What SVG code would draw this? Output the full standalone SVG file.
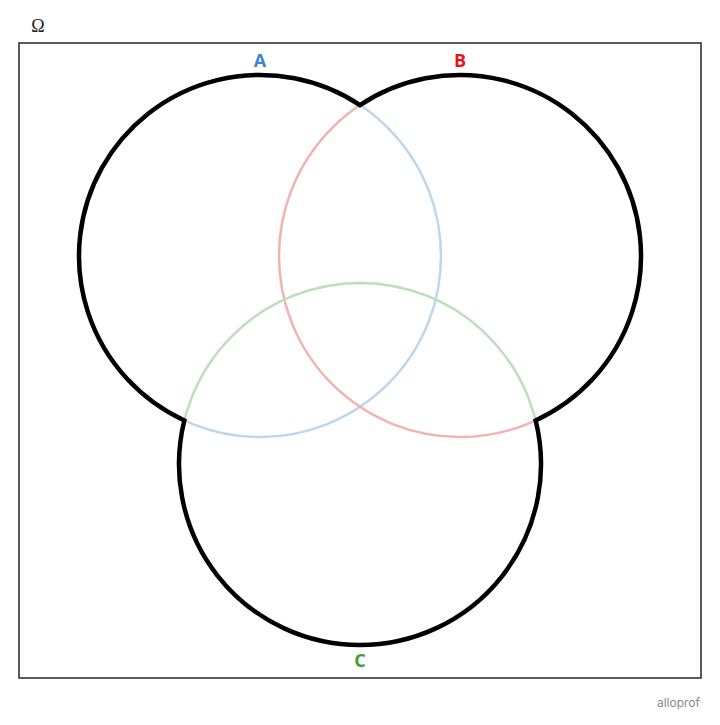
<svg xmlns="http://www.w3.org/2000/svg" width="720" height="725" viewBox="0 0 720 725">
<style>
.set{fill:none;stroke-width:2.5}
.lbl{font-family:"Open Sans","Liberation Sans",sans-serif;font-weight:700;font-size:18px;text-anchor:middle}
.outline{fill:none;stroke:#000;stroke-width:4.5;stroke-linejoin:miter}
</style>
<rect width="720" height="725" fill="#fff"/>
<g id="universe">
<rect x="19" y="43" width="682" height="635" fill="none" stroke="#333" stroke-width="1.6"/>
<text x="38" y="32" font-family="Liberation Serif,serif" font-size="18" text-anchor="middle" fill="#222">Ω</text>
</g>
<g id="setA">
<circle class="set" cx="260" cy="256" r="181" stroke="#BCD6EE"/>
<text class="lbl" x="260" y="67" fill="#3D86CE">A</text>
</g>
<g id="setB">
<circle class="set" cx="460" cy="256" r="181" stroke="#F5B1B1"/>
<text class="lbl" x="460" y="67" fill="#E8141B">B</text>
</g>
<g id="setC">
<circle class="set" cx="360" cy="464" r="181" stroke="#BCDFB9"/>
<text class="lbl" x="360" y="667" fill="#3A9E3A">C</text>
</g>
<g id="connectors">
<path class="outline" d="M360,105.13 A181,181 0 1 0 184.33,420.42 A181,181 0 1 0 535.67,420.42 A181,181 0 1 0 360,105.13 Z"/>
</g>
<text x="700" y="707" font-family="Inter,'Liberation Sans',sans-serif" font-size="12" text-anchor="end" fill="#8a8a8a">alloprof</text>
</svg>
